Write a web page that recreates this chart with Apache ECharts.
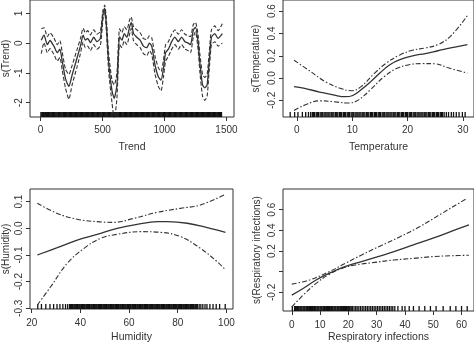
<!DOCTYPE html>
<html>
<head>
<meta charset="utf-8">
<script src="https://cdn.jsdelivr.net/npm/echarts@6/dist/echarts.min.js"></script>
<style>
  html, body { margin: 0; padding: 0; background: #fff; }
  #chart { width: 474px; height: 345px; }
</style>
</head>
<body>
<div id="chart"></div>
<script>
// ---- Smooth term: Trend ----
const trendX = [5,27,54,75,107,134,155,174,201,228,254,295,321,343,361,380,402,428,455,482,503,517,530,549,576,594,616,637,656,675,696,718,731,750,776,803,830,857,878,897,924,950,972,991,1009,1031,1058,1084,1111,1138,1165,1191,1210,1232,1250,1272,1285,1307,1325,1344,1360,1379,1406,1432,1467];
const trendFit = [0.10,0.27,-0.05,0.09,-0.10,-0.32,-0.20,-0.60,-1.20,-1.45,-1.07,-0.48,-0.10,0.27,0.10,0.16,0.02,0.20,0.05,0.16,0.97,1.18,0.65,-0.65,-1.60,-1.85,-1.40,0.22,0.10,0.32,0.20,0.54,0.70,0.32,0.20,0.10,-0.10,-0.15,0.00,-0.10,-0.75,-1.13,-1.24,-0.86,-0.32,-0.20,0.05,0.20,0.05,0.20,0.05,0.00,-0.05,0.43,0.54,0.00,-0.65,-1.40,-1.50,-1.40,-0.65,0.20,0.32,0.16,0.32];
const trendUpper = [0.48,0.52,0.22,0.35,0.18,-0.05,0.08,-0.30,-0.88,-1.05,-0.75,-0.20,0.15,0.50,0.35,0.42,0.28,0.45,0.30,0.40,1.10,1.28,0.85,-0.35,-1.25,-1.40,-1.00,0.48,0.35,0.55,0.45,0.78,0.88,0.55,0.45,0.35,0.15,0.12,0.25,0.18,-0.45,-0.82,-0.95,-0.58,-0.05,0.05,0.30,0.45,0.30,0.45,0.30,0.25,0.22,0.62,0.70,0.25,-0.35,-1.05,-1.15,-1.05,-0.35,0.45,0.58,0.42,0.65];
const trendLower = [-0.35,0.02,-0.32,-0.18,-0.38,-0.60,-0.48,-0.90,-1.52,-1.88,-1.40,-0.78,-0.35,0.04,-0.15,-0.10,-0.25,-0.05,-0.20,-0.08,0.80,1.05,0.45,-0.95,-2.00,-2.55,-1.85,-0.05,-0.15,0.08,-0.05,0.30,0.50,0.08,-0.05,-0.15,-0.35,-0.42,-0.25,-0.38,-1.05,-1.45,-1.60,-1.15,-0.60,-0.45,-0.20,-0.05,-0.20,-0.05,-0.20,-0.25,-0.32,0.20,0.38,-0.25,-0.95,-1.78,-1.92,-1.78,-0.95,-0.05,0.05,-0.10,0.00];
const trendRug = [2,10,15,22,29,35,41,48,56,63,70,76,83,90,97,104,110,117,124,131,139,145,151,158,166,173,180,186,193,200,207,214,221,228,234,241,248,255,262,268,275,282,289,296,303,310,316,323,330,337,344,350,357,364,371,378,385,391,398,405,412,419,426,432,439,446,453,460,467,473,480,487,494,501,508,514,521,528,535,542,549,555,562,569,576,583,590,596,603,610,617,624,631,637,644,651,658,665,672,678,685,692,699,706,713,719,726,733,740,747,754,760,767,774,781,788,795,801,808,815,822,829,836,842,849,856,863,870,877,883,890,897,904,911,918,924,931,938,945,952,959,965,972,979,986,993,1000,1006,1013,1020,1027,1034,1041,1047,1054,1061,1068,1075,1082,1088,1095,1102,1109,1116,1123,1129,1136,1143,1150,1157,1164,1170,1177,1184,1191,1198,1205,1211,1218,1225,1232,1239,1246,1252,1259,1266,1273,1280,1287,1293,1300,1307,1314,1321,1328,1334,1341,1348,1355,1362,1369,1375,1382,1389,1396,1403,1410,1416,1423,1430,1437,1444,1451,1456,1460];
const trendXTicks = [0,500,1000,1500];
const trendYTicks = [-2,-1,0,1];

// ---- Smooth term: Temperature ----
const tempX = [-0.5,1.2,4.1,7.0,8.7,10.1,11.6,13.3,15.1,16.8,18.6,20.9,23.2,25.5,27.8,30.8];
const tempFit = [-0.077,-0.09,-0.125,-0.156,-0.167,-0.156,-0.105,-0.034,0.05,0.12,0.165,0.20,0.22,0.245,0.27,0.30];
const tempUpperX = [-0.5,2.3,5.2,8.1,9.9,11.6,13.9,16.2,18.6,20.9,23.2,25.5,27.8,30.8];
const tempUpper = [0.16,0.065,-0.034,-0.096,-0.113,-0.077,0.037,0.136,0.207,0.25,0.27,0.30,0.377,0.56];
const tempLowerX = [-0.5,1.2,4.1,7.0,9.3,11.0,13.3,15.7,18.0,20.3,22.6,25.0,27.2,30.8];
const tempLower = [-0.29,-0.247,-0.204,-0.213,-0.224,-0.20,-0.105,0.01,0.085,0.12,0.13,0.128,0.094,0.045];
const tempRug = [-1.2,-0.4,0.2,1.0,1.6,2.1,2.5,2.8,3.0,3.2,3.5,3.7,3.9,4.2,4.4,4.6,4.9,5.1,5.3,5.6,5.8,6.0,6.3,6.5,6.7,7.0,7.2,7.4,7.7,7.9,8.1,8.4,8.6,8.8,9.1,9.3,9.5,9.8,10.0,10.2,10.5,10.7,10.9,11.2,11.4,11.6,11.9,12.1,12.3,12.6,12.8,13.0,13.3,13.5,13.7,14.0,14.2,14.4,14.7,14.9,15.1,15.4,15.6,15.8,16.1,16.3,16.5,16.8,17.0,17.2,17.5,17.7,17.9,18.2,18.4,18.6,18.9,19.1,19.3,19.6,19.8,20.0,20.3,20.5,20.7,21.0,21.2,21.4,21.7,21.9,22.1,22.4,22.6,22.8,23.1,23.3,23.5,23.8,24.0,24.2,24.5,24.7,24.9,25.2,25.4,25.6,25.9,26.1,26.3,26.6,27.0,27.4,27.9,28.3,28.8,29.3,29.9,30.4];
const tempXTicks = [0,10,20,30];
const tempYTicks = [-0.2,0.0,0.2,0.4,0.6];

// ---- Smooth term: Humidity ----
const humX = [22.3,30.5,38.7,46.9,55.1,63.3,71.6,75.7,83.9,92.1,99.6];
const humFit = [-0.10,-0.0725,-0.044,-0.0225,0.0,0.015,0.025,0.025,0.019,0.0025,-0.015];
const humUpperX = [22.3,30.5,38.7,46.9,53.8,62.0,71.6,81.1,89.3,99.6];
const humUpper = [0.094,0.056,0.034,0.025,0.0225,0.0375,0.06,0.075,0.0875,0.1275];
const humLowerX = [22.3,27.8,34.6,41.5,48.3,55.1,64.7,72.9,81.1,89.3,96.2,99.6];
const humLower = [-0.2875,-0.219,-0.131,-0.075,-0.0375,-0.0225,-0.0125,-0.015,-0.031,-0.075,-0.125,-0.156];
const humRug = [22.5,24.0,25.8,27.5,29.0,30.4,31.6,32.8,33.9,34.8,35.6,36.0,36.3,36.7,37.0,37.4,37.7,38.1,38.4,38.8,39.1,39.5,39.8,40.2,40.5,40.9,41.2,41.6,41.9,42.3,42.6,43.0,43.3,43.7,44.0,44.4,44.7,45.1,45.4,45.8,46.1,46.5,46.8,47.2,47.5,47.9,48.2,48.6,48.9,49.3,49.6,50.0,50.3,50.7,51.0,51.4,51.7,52.1,52.4,52.8,53.1,53.5,53.8,54.2,54.5,54.9,55.2,55.6,55.9,56.3,56.6,57.0,57.3,57.7,58.0,58.4,58.7,59.1,59.4,59.8,60.1,60.5,60.8,61.2,61.5,61.9,62.2,62.6,62.9,63.3,63.6,64.0,64.3,64.7,65.0,65.4,65.7,66.1,66.4,66.8,67.1,67.5,67.8,68.2,68.5,68.9,69.2,69.6,69.9,70.3,70.6,71.0,71.3,71.7,72.0,72.4,72.7,73.1,73.4,73.8,74.1,74.5,74.8,75.2,75.5,75.9,76.2,76.6,76.9,77.3,77.6,78.0,78.3,78.7,79.0,79.4,79.7,80.1,80.4,80.8,81.1,81.5,81.8,82.2,82.5,82.9,83.2,83.6,83.9,84.3,84.6,85.0,85.3,85.7,86.0,86.4,86.7,87.1,87.4,87.8,88.1,88.8,89.5,90.3,91.2,92.0,93.2,94.5,95.8,97.2,99.5];
const humXTicks = [20,40,60,80,100];
const humYTicks = [-0.3,-0.2,-0.1,0.0,0.1];

// ---- Smooth term: Respiratory infections ----
const respX = [0,4,8.6,13.2,17.8,22.4,29.3,36.1,43.0,49.9,56.8,62.6];
const respFit = [-0.227,-0.162,-0.08,-0.016,0.039,0.081,0.136,0.194,0.259,0.324,0.395,0.453];
const respUpperX = [0,6.3,13.2,18.9,24.7,31.5,38.4,45.3,52.2,59.1,61.9];
const respUpper = [-0.12,-0.08,0.0,0.081,0.162,0.252,0.34,0.437,0.55,0.663,0.71];
const respLowerX = [0,4,8.6,13.2,17.8,22.4,29.3,36.1,43.0,49.9,56.8,62.6];
const respLower = [-0.34,-0.227,-0.113,-0.026,0.032,0.065,0.09,0.113,0.129,0.146,0.155,0.159];
const respRug = [0.2,1.0,1.3,1.6,2.0,2.3,2.6,3.0,3.3,3.6,4.0,4.3,4.6,5.0,5.3,5.6,6.0,6.3,6.6,7.0,7.3,7.6,8.0,8.3,8.6,9.0,9.3,9.6,10.0,10.3,10.6,11.0,11.3,11.6,12.0,12.3,12.6,13.0,13.3,13.6,14.0,14.3,14.6,15.0,15.3,15.6,16.0,16.3,16.6,17.0,17.3,17.6,18.0,18.3,18.6,19.0,19.3,19.6,20.0,20.3,20.6,21.0,21.4,22.0,22.6,23.1,23.7,24.3,24.9,25.5,26.1,26.7,27.3,27.9,28.5,29.1,29.7,30.3,30.9,31.5,32.1,32.7,33.3,33.9,34.5,35.1,35.7,36.4,37.5,39.0,40.0,41.5,43.0,45.0,47.0,49.0,51.0,53.5,56.0,58.0,60.0,62.0];
const respXTicks = [0,10,20,30,40,50,60];
const respYTicks = [-0.2,0.0,0.2,0.4,0.6];
const respYLabels = [-0.2,0.2,0.4,0.6];

const INK = '#333';
const FONT = '"Liberation Sans", Arial, sans-serif';
const FS = 10;
const DASH = [4, 2];
const DASHDOT = [5, 2, 1.5, 2];

// panel boxes and value ranges
const panels = [
  { grid: { left: 29, top: -5, width: 205, height: 122 }, x: [-86, 1561], y: [-2.48, 1.45] },
  { grid: { left: 283, top: -6, width: 198, height: 123 }, x: [-2.5, 32], y: [-0.349, 0.7] },
  { grid: { left: 29, top: 189, width: 204, height: 120 }, x: [19.3, 102.7], y: [-0.3025, 0.1475] },
  { grid: { left: 283, top: 189, width: 196, height: 122 }, x: [-3.1, 64.4], y: [-0.38, 0.80] }
];

function xAxis(i, ticks, name, gap, margin) {
  return {
    type: 'value', gridIndex: i, min: panels[i].x[0], max: panels[i].x[1],
    name: name, nameLocation: 'middle', nameGap: gap,
    nameTextStyle: { color: INK, fontSize: FS + 0.5, fontFamily: FONT },
    axisLine: { show: false, onZero: false }, splitLine: { show: false },
    axisTick: { show: true, length: 4, customValues: ticks, lineStyle: { color: INK, width: 1 } },
    axisLabel: { customValues: ticks, color: INK, fontSize: FS, fontFamily: FONT, margin: margin,
                 formatter: v => String(v) }
  };
}
function yAxis(i, ticks, labels, name, gap, decimals) {
  return {
    type: 'value', gridIndex: i, min: panels[i].y[0], max: panels[i].y[1],
    name: name, nameLocation: 'middle', nameGap: gap, nameRotate: 90,
    nameTextStyle: { color: INK, fontSize: FS, fontFamily: FONT },
    axisLine: { show: false, onZero: false }, splitLine: { show: false },
    axisTick: { show: true, length: 4, customValues: ticks, lineStyle: { color: INK, width: 1 } },
    axisLabel: { customValues: labels, rotate: 90, color: INK, fontSize: FS, fontFamily: FONT, margin: 6,
                 formatter: v => v.toFixed(decimals) }
  };
}

function pairs(xs, ys) { return xs.map((x, k) => [x, ys[k]]); }
function line(i, xs, ys, dash, smooth) {
  return {
    type: 'line', xAxisIndex: i, yAxisIndex: i, data: pairs(xs, ys),
    showSymbol: false, smooth: smooth, silent: true, clip: true,
    lineStyle: { color: INK, width: dash ? 1.1 : 1.3, type: dash || 'solid' }
  };
}
// rug of observed covariate values along the bottom of each panel
function rug(i, xs) {
  const y0 = panels[i].y[0];
  return {
    type: 'scatter', xAxisIndex: i, yAxisIndex: i, silent: true,
    data: xs.map(v => [v, y0]),
    symbol: 'rect', symbolSize: [1.3, 5], symbolOffset: [0, -2.5],
    itemStyle: { color: '#111', opacity: 1 }
  };
}

const chart = echarts.init(document.getElementById('chart'), null, { renderer: 'canvas' });
chart.setOption({
  animation: false,
  backgroundColor: '#fff',
  grid: panels.map(p => Object.assign({ show: true, borderColor: INK, borderWidth: 1, backgroundColor: 'transparent', containLabel: false }, p.grid)),
  xAxis: [
    xAxis(0, trendXTicks, 'Trend', 25, 8),
    xAxis(1, tempXTicks, 'Temperature', 25, 8),
    xAxis(2, humXTicks, 'Humidity', 23, 9),
    xAxis(3, respXTicks, 'Respiratory infections', 21, 9)
  ],
  yAxis: [
    yAxis(0, trendYTicks, trendYTicks, 's(Trend)', 19, 0),
    yAxis(1, tempYTicks, tempYTicks, 's(Temperature)', 22, 1),
    yAxis(2, humYTicks, humYTicks, 's(Humidity)', 19, 1),
    yAxis(3, respYTicks, respYLabels, 's(Respiratory infections)', 21, 1)
  ],
  series: [
    line(0, trendX, trendUpper, DASH, 0.2),
    line(0, trendX, trendLower, DASH, 0.2),
    line(0, trendX, trendFit, null, 0.2),
    rug(0, trendRug),
    line(1, tempUpperX, tempUpper, DASHDOT, 0.4),
    line(1, tempLowerX, tempLower, DASHDOT, 0.4),
    line(1, tempX, tempFit, null, 0.4),
    rug(1, tempRug),
    line(2, humUpperX, humUpper, DASHDOT, 0.4),
    line(2, humLowerX, humLower, DASHDOT, 0.4),
    line(2, humX, humFit, null, 0.4),
    rug(2, humRug),
    line(3, respUpperX, respUpper, DASHDOT, 0.4),
    line(3, respLowerX, respLower, DASHDOT, 0.4),
    line(3, respX, respFit, null, 0.4),
    rug(3, respRug)
  ]
});
</script>
</body>
</html>
